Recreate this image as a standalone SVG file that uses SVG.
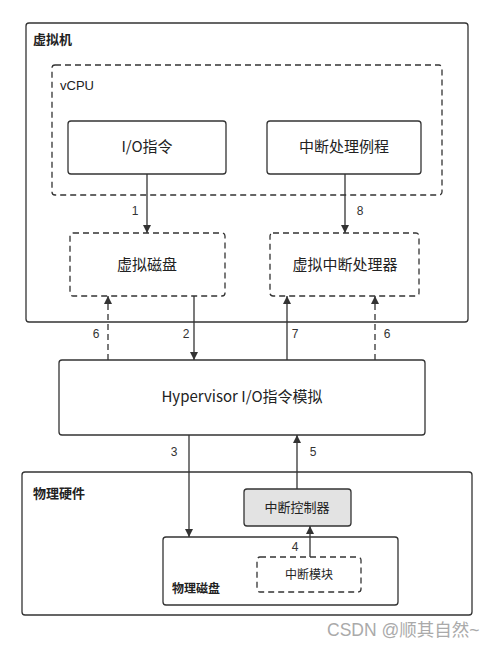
<svg xmlns="http://www.w3.org/2000/svg" width="500" height="649" viewBox="0 0 500 649">
<style>
.box{fill:#fff;stroke:#333;stroke-width:1.3}
.dash{fill:#fff;stroke:#333;stroke-width:1.3;stroke-dasharray:6 4}
.gray{fill:#e3e3e3;stroke:#333;stroke-width:1.3}
.t{font-family:"Noto Sans CJK SC","Liberation Sans",sans-serif;fill:#222}
.c{text-anchor:middle}
.ln{stroke:#333;stroke-width:1.3;fill:none}
.dl{stroke:#333;stroke-width:1.3;fill:none;stroke-dasharray:6 4}
.n{font-family:"Liberation Sans","Noto Sans CJK SC",sans-serif;font-size:12px;fill:#333;text-anchor:middle}
</style>
<defs>
<marker id="ah" viewBox="0 0 10 10" refX="10" refY="5" markerWidth="8" markerHeight="8" markerUnits="userSpaceOnUse" orient="auto">
<path d="M0,0 L10,5 L0,10 z" fill="#333"/>
</marker>
</defs>
<rect width="500" height="649" fill="#fff"/>
<g id="vm">
<rect class="box" x="26" y="23" width="442" height="299" rx="3"/>
<text class="t" x="33" y="44" font-size="13" font-weight="bold">虚拟机</text>
</g>
<g id="vcpu">
<rect class="dash" x="52" y="65" width="390" height="130" rx="3"/>
<text x="60" y="90" font-family="Liberation Sans,sans-serif" font-size="13" fill="#222">vCPU</text>
</g>
<g id="io">
<rect class="box" x="68" y="121" width="158" height="53" rx="3"/>
<text class="t c" x="147" y="152" font-size="15">I/O指令</text>
</g>
<g id="isr">
<rect class="box" x="267" y="121" width="154" height="53" rx="3"/>
<text class="t c" x="344" y="152" font-size="15">中断处理例程</text>
</g>
<g id="vdisk">
<rect class="dash" x="70" y="233" width="155" height="63" rx="3"/>
<text class="t c" x="147" y="270" font-size="15">虚拟磁盘</text>
</g>
<g id="vint">
<rect class="dash" x="270" y="233" width="149" height="63" rx="3"/>
<text class="t c" x="345" y="270" font-size="15">虚拟中断处理器</text>
</g>
<g id="hyp">
<rect class="box" x="59" y="360" width="366" height="75" rx="3"/>
<text class="t c" x="242" y="402" font-size="15">Hypervisor I/O指令模拟</text>
</g>
<g id="hw">
<rect class="box" x="22" y="472" width="450" height="143" rx="3"/>
<text class="t" x="33" y="498" font-size="13" font-weight="bold">物理硬件</text>
</g>
<g id="ictrl">
<rect class="gray" x="244" y="489" width="107" height="37" rx="3"/>
<text class="t c" x="297" y="512" font-size="13">中断控制器</text>
</g>
<g id="pdisk">
<rect class="box" x="163" y="537" width="235" height="68" rx="3"/>
<text class="t" x="172" y="593" font-size="12" font-weight="bold">物理磁盘</text>
</g>
<g id="imod">
<rect class="dash" x="257" y="557" width="104" height="35" rx="3"/>
<text class="t c" x="309" y="579" font-size="12">中断模块</text>
</g>
<g id="connectors">
<line class="ln" x1="147" y1="174" x2="147" y2="233" marker-end="url(#ah)"/>
<line class="ln" x1="345" y1="174" x2="345" y2="233" marker-end="url(#ah)"/>
<line class="dl" x1="108" y1="360" x2="108" y2="296" marker-end="url(#ah)"/>
<line class="ln" x1="194" y1="296" x2="194" y2="360" marker-end="url(#ah)"/>
<line class="ln" x1="287" y1="360" x2="287" y2="296" marker-end="url(#ah)"/>
<line class="dl" x1="375" y1="360" x2="375" y2="296" marker-end="url(#ah)"/>
<line class="ln" x1="189" y1="435" x2="189" y2="537" marker-end="url(#ah)"/>
<line class="ln" x1="297" y1="489" x2="297" y2="435" marker-end="url(#ah)"/>
<line class="ln" x1="310" y1="557" x2="310" y2="526" marker-end="url(#ah)"/>
<text class="n" x="135" y="215">1</text>
<text class="n" x="360" y="215">8</text>
<text class="n" x="96" y="338">6</text>
<text class="n" x="186" y="338">2</text>
<text class="n" x="295" y="338">7</text>
<text class="n" x="387" y="338">6</text>
<text class="n" x="174" y="456">3</text>
<text class="n" x="313" y="456">5</text>
<text class="n" x="295" y="551">4</text>
</g>
<text x="327" y="636" font-family="Liberation Sans,'Noto Sans CJK SC',sans-serif" font-size="17.5" fill="#aaa">CSDN @顺其自然~</text>
</svg>
